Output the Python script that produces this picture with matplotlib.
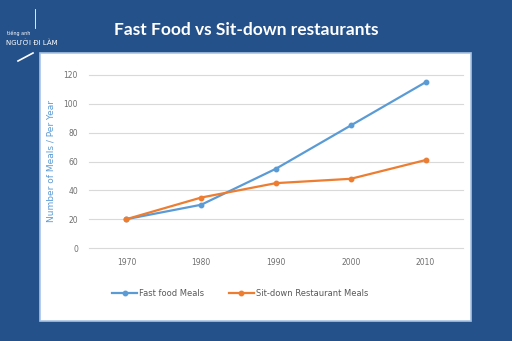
import matplotlib.pyplot as plt
from matplotlib.patches import Rectangle
from matplotlib.lines import Line2D

years = ['1970', '1980', '1990', '2000', '2010']
fast_food = [20, 30, 55, 85, 115]
sit_down = [20, 35, 45, 48, 61]
y_ticks = [0, 20, 40, 60, 80, 100, 120]

bg = '#25518a'
blue = '#5b9bd5'
orange = '#ed7d31'

fig = plt.figure(figsize=(5.12, 3.41), dpi=100, facecolor=bg)

# white panel behind the chart
fig.patches.append(Rectangle((40 / 512, 20 / 341), 431 / 512, 268 / 341,
                             transform=fig.transFigure, facecolor='white',
                             edgecolor='#a9c4e4', linewidth=1.2, zorder=-1))

# logo bits
fig.add_artist(Line2D([35 / 512, 35 / 512], [1 - 9 / 341, 1 - 28 / 341],
                      transform=fig.transFigure, color='white', lw=0.6))
fig.add_artist(Line2D([18 / 512, 33 / 512], [1 - 61 / 341, 1 - 53 / 341],
                      transform=fig.transFigure, color='white', lw=1.2))
fig.text(7 / 512, 1 - 33 / 341, 'tiếng anh', color='white', fontsize=3.5,
         va='center', family='DejaVu Sans')
fig.text(6 / 512, 1 - 43 / 341, 'NGƯỜI ĐI LÀM', color='white', fontsize=5,
         va='center', family='DejaVu Sans')

fig.text(246 / 512, 1 - 30 / 341, 'Fast Food vs Sit-down restaurants',
         color='white', fontsize=12.5, fontweight='bold', family='Lato',
         ha='center', va='center')

ax = fig.add_axes([89 / 512, 93 / 341, 374 / 512, 173 / 341])
ax.set_zorder(2)
ax.patch.set_alpha(0)
x = range(len(years))
ax.plot(x, fast_food, '-o', color=blue, lw=1.6, ms=3.2, label='Fast food Meals')
ax.plot(x, sit_down, '-o', color=orange, lw=1.6, ms=3.2,
        label='Sit-down Restaurant Meals')

ax.set_xlim(-0.5, 4.5)
ax.set_ylim(0, 120)
ax.set_xticks(list(x))
ax.set_xticklabels(years)
ax.set_yticks(y_ticks)
ax.grid(axis='y', color='#d9d9d9', lw=0.8)
for gl in ax.get_ygridlines():
    gl.set_clip_on(False)
ax.set_axisbelow(True)
for s in ax.spines.values():
    s.set_visible(False)
ax.tick_params(length=0, labelsize=5.5, labelcolor='#6f6f6f')
ax.tick_params(axis='x', pad=7)
ax.tick_params(axis='y', pad=8)
ax.set_ylabel('Number of Meals / Per Year', color=blue, fontsize=6.5, labelpad=6)

fig.legend(loc='center', bbox_to_anchor=(240 / 512, 48 / 341), ncol=2,
           frameon=False, fontsize=6, handlelength=3, columnspacing=3,
           handletextpad=0.2, labelcolor='#595959')

fig.savefig('out.png', dpi=100, facecolor=bg)
